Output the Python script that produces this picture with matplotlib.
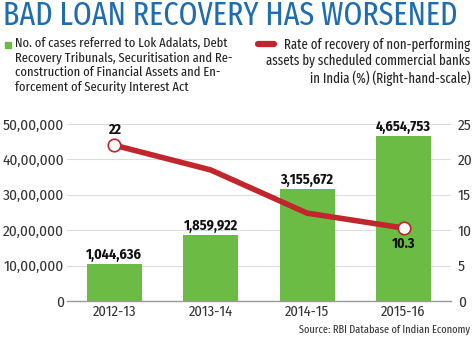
import matplotlib

matplotlib.use("Agg")
import matplotlib.pyplot as plt
from matplotlib.lines import Line2D

plt.rcParams["font.family"] = ["Fira Sans Condensed", "DejaVu Sans"]
NARROW = ["Fira Sans Extra Condensed", "Fira Sans Condensed", "DejaVu Sans"]

years = ["2012-13", "2013-14", "2014-15", "2015-16"]
cases = [1044636, 1859922, 3155672, 4654753]
case_labels = ["1,044,636", "1,859,922", "3,155,672", "4,654,753"]
recovery_rate = [22, 18.5, 12.4, 10.3]
left_ticks = [0, 1000000, 2000000, 3000000, 4000000, 5000000]
left_tick_labels = ["0", "10,00,000", "20,00,000", "30,00,000", "40,00,000", "50,00,000"]
right_ticks = [0, 5, 10, 15, 20, 25]

GREEN = "#6cbb45"
RED = "#c0262c"
BLUE = "#1f6cae"

fig = plt.figure(figsize=(4.74, 3.57), dpi=100)
ax = fig.add_axes([0.141, 0.157, 0.81, 0.496])

x = list(range(len(years)))
ax.bar(x, cases, width=0.57, color=GREEN, zorder=2)
for xi, v, lab in zip(x, cases, case_labels):
    ax.text(xi, v + 50000, lab, ha="center", va="bottom", fontsize=10.2,
            fontweight="bold", color="#111111", zorder=5)

ax.set_xlim(-0.49, 3.49)
ax.set_ylim(0, 5000000)
ax.set_yticks(left_ticks)
ax.set_yticklabels(left_tick_labels)
ax.set_xticks(x)
ax.set_xticklabels(years)
ax.tick_params(axis="y", length=0, pad=2, labelsize=11, colors="#333333")
ax.tick_params(axis="x", length=0, pad=3, labelsize=10.5, colors="#333333")
ax.grid(axis="y", color="#dddddd", linewidth=0.8, zorder=0)
for s in ["top", "right", "left"]:
    ax.spines[s].set_visible(False)
ax.spines["bottom"].set_color("#999999")
ax.spines["bottom"].set_linewidth(1.0)

ax2 = ax.twinx()
ax2.set_ylim(0, 25)
ax2.set_yticks(right_ticks)
ax2.tick_params(axis="y", length=0, pad=5, labelsize=11, colors="#333333")
for s in ["top", "right", "left", "bottom"]:
    ax2.spines[s].set_visible(False)
ax2.plot(x, recovery_rate, color=RED, linewidth=4, solid_capstyle="round",
         zorder=3)
ends = [0, len(x) - 1]
ax2.plot([x[i] for i in ends], [recovery_rate[i] for i in ends], "o",
         markersize=9, markerfacecolor="white", markeredgecolor=RED,
         markeredgewidth=1.2, zorder=4)
ax2.text(x[0], recovery_rate[0] + 1.2, "22", ha="center", va="bottom",
         fontsize=10.2, fontweight="bold", color="#111111")
ax2.text(x[-1], recovery_rate[-1] - 1.2, "10.3", ha="center", va="top",
         fontsize=10.2, fontweight="bold", color="#111111")

fig.text(0.006, 0.955, "BAD LOAN RECOVERY HAS WORSENED", ha="left",
         va="center", fontsize=23.5, color=BLUE, family=NARROW)

# legend block
fig.patches.append(plt.Rectangle((0.011, 0.866), 0.012, 0.017,
                                  transform=fig.transFigure, color=GREEN))
fig.text(0.032, 0.895,
         "No. of cases referred to Lok Adalats, Debt\n"
         "Recovery Tribunals, Securitisation and Re-\n"
         "construction of Financial Assets and En-\n"
         "forcement of Security Interest Act",
         ha="left", va="top", fontsize=9.8, color="#222222",
         linespacing=1.18, family=NARROW)
fig.add_artist(Line2D([0.545, 0.578], [0.876, 0.876], color=RED,
                      linewidth=4.5, solid_capstyle="round"))
fig.text(0.992, 0.895,
         "Rate of recovery of non-performing\n"
         "assets by scheduled commercial banks\n"
         "in India (%) (Right-hand-scale)",
         ha="right", va="top", fontsize=10, color="#222222",
         linespacing=1.18, multialignment="right", family=NARROW)

fig.text(0.992, 0.078, "Source: RBI Database of Indian Economy", ha="right",
         va="center", fontsize=8.1, color="#333333", family=NARROW)

fig.savefig("out.png", dpi=100, facecolor="white")
